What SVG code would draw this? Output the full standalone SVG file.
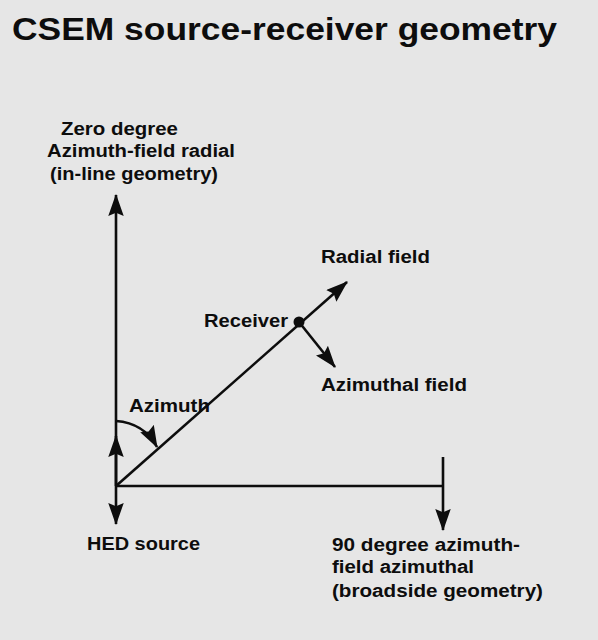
<svg xmlns="http://www.w3.org/2000/svg" width="598" height="640" viewBox="0 0 598 640">
<style>
text{font-family:"Liberation Sans",Arial,sans-serif;font-weight:bold;fill:#0d0d0d}
.lbl{font-size:18px}
.ln{stroke:#0d0d0d;stroke-width:2.6;fill:none}
</style>
<defs>
<marker id="ah" viewBox="0 0 20 14" refX="19" refY="7" markerWidth="8.5" markerHeight="6" orient="auto" markerUnits="strokeWidth">
<path d="M0,0 L20,7 L0,14 L3,7 Z" fill="#0d0d0d"/>
</marker>
</defs>
<rect width="598" height="640" fill="#e6e6e6"/>
<text x="12" y="40" font-size="31" textLength="545" lengthAdjust="spacingAndGlyphs">CSEM source-receiver geometry</text>
<g id="connectors">
<line class="ln" x1="116" y1="486" x2="116" y2="195" marker-end="url(#ah)"/>
<line class="ln" x1="116" y1="486" x2="116" y2="524" marker-end="url(#ah)"/>
<line class="ln" x1="116" y1="486" x2="116" y2="436" marker-end="url(#ah)"/>
<line class="ln" x1="116" y1="486" x2="443" y2="486"/>
<line class="ln" x1="443" y1="457" x2="443" y2="530" marker-end="url(#ah)"/>
<line class="ln" x1="116" y1="486" x2="347" y2="282" marker-end="url(#ah)"/>
<line class="ln" x1="299" y1="322" x2="335" y2="367" marker-end="url(#ah)"/>
<path class="ln" d="M116,421 Q144,423 157,447" marker-end="url(#ah)"/>
</g>
<g id="zero">
<text class="lbl" x="61" y="135" textLength="117" lengthAdjust="spacingAndGlyphs">Zero degree</text>
<text class="lbl" x="47" y="157" textLength="188" lengthAdjust="spacingAndGlyphs">Azimuth-field radial</text>
<text class="lbl" x="50" y="180" textLength="168" lengthAdjust="spacingAndGlyphs">(in-line geometry)</text>
</g>
<g id="receiver">
<circle cx="299" cy="322" r="5.5" fill="#0d0d0d"/>
<text class="lbl" x="204" y="327" textLength="84" lengthAdjust="spacingAndGlyphs">Receiver</text>
</g>
<g id="radial"><text class="lbl" x="321" y="263" textLength="109" lengthAdjust="spacingAndGlyphs">Radial field</text></g>
<g id="azimuthal"><text class="lbl" x="321" y="391" textLength="146" lengthAdjust="spacingAndGlyphs">Azimuthal field</text></g>
<g id="azimuth"><text class="lbl" x="129" y="412" textLength="81" lengthAdjust="spacingAndGlyphs">Azimuth</text></g>
<g id="hed"><text class="lbl" x="87" y="550" textLength="113" lengthAdjust="spacingAndGlyphs">HED source</text></g>
<g id="ninety">
<text class="lbl" x="332" y="551" textLength="188" lengthAdjust="spacingAndGlyphs">90 degree azimuth-</text>
<text class="lbl" x="332" y="573" textLength="142" lengthAdjust="spacingAndGlyphs">field azimuthal</text>
<text class="lbl" x="332" y="597" textLength="211" lengthAdjust="spacingAndGlyphs">(broadside geometry)</text>
</g>
</svg>
